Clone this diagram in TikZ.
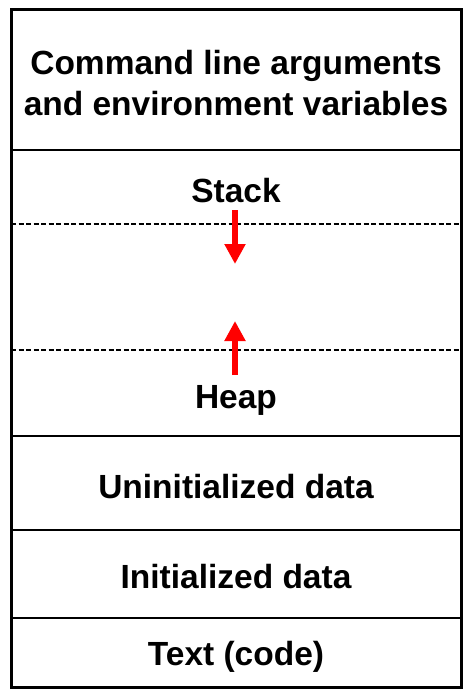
\documentclass[tikz,border=0pt]{standalone}
\usepackage{fontspec}
\setmainfont{Liberation Sans}
\usetikzlibrary{arrows.meta}
\tikzset{
  seg/.style={font=\bfseries\fontsize{33.5}{41}\selectfont, align=center},
  growarrow/.style={draw=red, line width=5.5pt, -{Triangle[width=20pt,length=20pt]}},
  divider/.style={line width=1.5pt},
  growline/.style={line width=1.2pt, dash pattern=on 5pt off 2.5pt},
}
\begin{document}
\begin{tikzpicture}[x=1pt,y=-1pt]
\useasboundingbox (0,0) rectangle (474,696);
\fill[white] (0,0) rectangle (474,696);
\draw[divider] (11,150) -- (461,150);
\draw[growline] (11,224) -- (461,224);
\draw[growline] (11,350) -- (461,350);
\draw[divider] (11,436) -- (461,436);
\draw[divider] (11,530) -- (461,530);
\draw[divider] (11,618) -- (461,618);
\draw[line width=3pt] (11,9) rectangle (461,687);

\node[seg] (args) at (236,83) {Command line arguments\\and environment variables};
\node[seg] (stack) at (236,191) {Stack};
\node[seg] (heap) at (236,400) {Heap};
\node[seg] (bss) at (236,487) {Uninitialized data};
\node[seg] (data) at (236,577) {Initialized data};
\node[seg] (text) at (236,657) {Text (code)};

\coordinate (s1) at (235,210);
\coordinate (s2) at (235,264);
\coordinate (h1) at (235,375);
\coordinate (h2) at (235,321);
\draw[growarrow] (s1) -- (s2);
\draw[growarrow] (h1) -- (h2);
\end{tikzpicture}
\end{document}
